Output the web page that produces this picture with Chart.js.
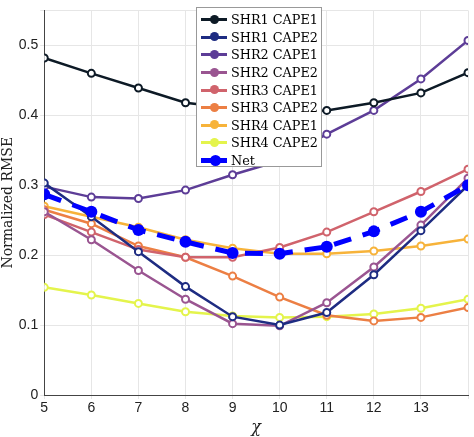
<!DOCTYPE html>
<html><head><meta charset="utf-8">
<script src="https://cdn.jsdelivr.net/npm/chart.js@4"></script>
<style>
html,body{margin:0;padding:0;background:#fff;}
#wrap{position:relative;width:474px;height:437px;}
#leg{position:absolute;left:196px;top:7px;width:126px;height:160px;background:#fff;border:1px solid #999;font-family:"DejaVu Serif","Liberation Serif",serif;font-size:12.8px;box-sizing:border-box;padding-top:3px;}
.r{display:flex;align-items:center;height:17.6px;}
.s{position:relative;width:26px;height:3px;margin:0 4px 0 4px;}
.s i{position:absolute;left:9px;top:-3.5px;width:9px;height:9px;border-radius:50%;}
</style></head><body>
<div id="wrap"><canvas id="c" width="474" height="437"></canvas><div id="leg"></div></div>
<script>
const xs=[5,6,7,8,9,10,11,12,13,14];
const names=["SHR1 CAPE1","SHR1 CAPE2","SHR2 CAPE1","SHR2 CAPE2","SHR3 CAPE1","SHR3 CAPE2","SHR4 CAPE1","SHR4 CAPE2","Net"];
const colors=["#0d1a26","#1e2c82","#5d3d97","#9a5591","#d0636c","#ec7f44","#f7b33a","#e4f44c","#0000ff"];
const s1c1=[0.482,0.460,0.439,0.418,0.410,0.405,0.407,0.418,0.432,0.461];
const s1c2=[0.303,0.255,0.205,0.155,0.112,0.100,0.118,0.172,0.235,0.300];
const s2c1=[0.298,0.283,0.281,0.293,0.315,0.335,0.373,0.407,0.452,0.507];
const s2c2=[0.262,0.222,0.178,0.137,0.102,0.099,0.132,0.183,0.243,0.310];
const s3c1=[0.258,0.233,0.208,0.197,0.197,0.211,0.233,0.262,0.291,0.323];
const s3c2=[0.265,0.245,0.213,0.197,0.170,0.140,0.114,0.106,0.111,0.125];
const s4c1=[0.270,0.255,0.240,0.222,0.210,0.202,0.202,0.206,0.213,0.223];
const s4c2=[0.154,0.143,0.131,0.119,0.113,0.111,0.112,0.116,0.124,0.137];
const net=[0.287,0.262,0.236,0.219,0.203,0.202,0.212,0.234,0.262,0.300];
const series=[s1c1,s1c2,s2c1,s2c2,s3c1,s3c2,s4c1,s4c2,net];
const datasets=series.map((d,i)=>{
  const isNet=i===8;
  return {label:names[i],data:d.map((v,j)=>({x:xs[j],y:v})),borderColor:colors[i],backgroundColor:isNet?colors[i]:'#ffffff',
    borderWidth:isNet?5:2.5,pointRadius:isNet?6:3.5,pointBorderWidth:isNet?0:2,borderDash:isNet?[18,12]:[],order:isNet?0:1};
});
const leg=document.getElementById('leg');
names.forEach((n,i)=>{leg.innerHTML+=`<div class="r"><div class="s" style="background:${colors[i]};${i===8?'height:5px':''}"><i style="background:${colors[i]};${i===8?'top:-3px;width:11px;height:11px':''}"></i></div>${n}</div>`;});
new Chart(document.getElementById('c'),{type:'line',data:{datasets},
options:{responsive:false,animation:false,layout:{padding:{top:0,right:5,left:0,bottom:0}},
plugins:{legend:{display:false},tooltip:{enabled:false}},
scales:{
x:{type:'linear',min:5,max:14,ticks:{stepSize:1,padding:1,callback:v=>v===14?'':v,color:'#222',font:{family:'Liberation Sans',size:14}},grid:{color:'#e6e6e6',tickLength:4},border:{color:'#444'},
 title:{display:true,text:'χ',font:{family:'DejaVu Serif',size:16,style:'italic'},color:'#222',padding:{top:0,bottom:0}}},
y:{min:0,max:0.55,ticks:{stepSize:0.1,padding:2,callback:v=>Math.abs(v-Math.round(v*10)/10)<1e-9?(v===0?'0':(+v.toFixed(1)).toString()):'',color:'#222',font:{family:'Liberation Sans',size:14}},grid:{color:'#e6e6e6',tickLength:4},border:{color:'#444'},
 title:{display:true,text:'Normalized RMSE',font:{family:'DejaVu Serif',size:14},color:'#222',padding:{top:0,bottom:0}}}
}}});
</script></body></html>
